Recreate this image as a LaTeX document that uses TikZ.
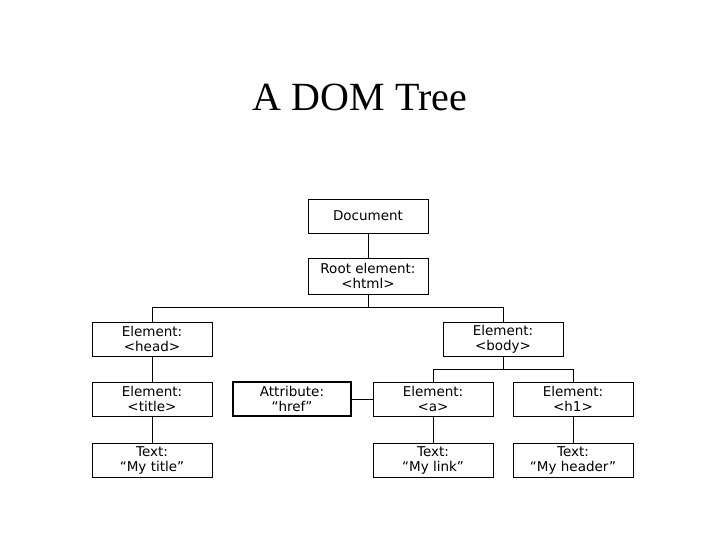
\documentclass[tikz,border=0pt]{standalone}
\usepackage{fontspec}
\setmainfont{Liberation Serif}
\setsansfont{DejaVu Sans}
\usetikzlibrary{positioning}
\tikzset{
  box/.style={draw, thick, minimum width=120pt, minimum height=34pt, align=center,
    inner sep=1pt, font=\sffamily\fontsize{13.5}{15}\selectfont},
  attr/.style={box, line width=1.6pt},
  link/.style={thick}
}
\begin{document}
\begin{tikzpicture}[x=1pt,y=-1pt]
\useasboundingbox (0,0) rectangle (720,540);

\node at (360,97) [font=\fontsize{40}{42}\selectfont] (title) {A DOM Tree};

\node[box] (doc) at (368,216) {Document};
\node[box, minimum height=36pt] (root) at (368,276) {Root element:\\<html>};
\node[box] (head) at (152,339) {Element:\\<head>};
\node[box] (body) at (503,339) {Element:\\<body>};
\node[box] (ttl) at (152,399) {Element:\\<title>};
\node[attr, minimum width=118pt] (href) at (292,399) {Attribute:\\``href''};
\node[box] (a) at (433,399) {Element:\\<a>};
\node[box] (h1) at (573,399) {Element:\\<h1>};
\node[box] (mytitle) at (152,460) {Text:\\``My title''};
\node[box] (mylink) at (433,460) {Text:\\``My link''};
\node[box] (myheader) at (573,460) {Text:\\``My header''};

% connectors
\draw[link] (doc) -- (root);
\draw[link] (root.south) -- ++(0,13) -| (head.north);
\draw[link] (root.south) -- ++(0,13) -| (body.north);
\draw[link] (head) -- (ttl);
\draw[link] (ttl) -- (mytitle);
\draw[link] (body.south) -- ++(0,13) -| (a.north);
\draw[link] (body.south) -- ++(0,13) -| (h1.north);
\draw[link] (href) -- (a);
\draw[link] (a) -- (mylink);
\draw[link] (h1) -- (myheader);
\end{tikzpicture}
\end{document}
